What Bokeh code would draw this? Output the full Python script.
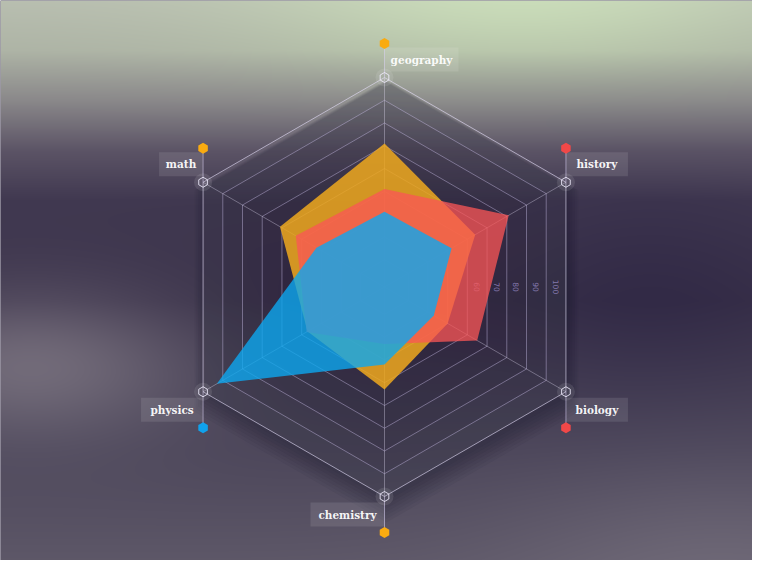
import numpy as np
from bokeh.plotting import figure
from bokeh.models import Range1d
from bokeh.core.properties import value
from bokeh.embed import file_html
from bokeh.resources import INLINE

# ---------------- data ----------------
categories = ["geography", "history", "biology", "chemistry", "physics", "math"]
orange_scores = [71, 54, 40, 53, 47, 61]
red_scores = [51, 71, 55, 33, 47.5, 53]
blue_scores = [41, 42, 33, 42, 93, 42.5]
ring_levels = [20, 30, 40, 50, 60, 70, 80, 90, 100]
tick_values = [60, 70, 80, 90, 100]
tick_labels = ["60", "70", "80", "90", "100"]

series_colors = ["#eea81e", "#fa5655", "#0ca8f0"]
series_alpha = [0.86, 0.76, 0.80]

# ---------------- geometry / layout ----------------
W, H = 752, 560
CX, CY = 384, 286.5      # chart centre in window px
R = 209.5                # outer radius in px
VMIN, VMAX = 8, 100      # radial scale domain


def rad(v):
    return (np.asarray(v, dtype=float) - VMIN) / (VMAX - VMIN) * R


angles = np.deg2rad([90 - 60 * i for i in range(len(categories))])
cosA, sinA = np.cos(angles), np.sin(angles)

x0, x1 = -CX, W - CX
y0, y1 = -(H - CY), CY

p = figure(width=W, height=H, output_backend="svg", toolbar_location=None,
           x_range=Range1d(x0, x1), y_range=Range1d(y0, y1),
           min_border=0, outline_line_color=None)
p.axis.visible = False
p.grid.visible = False
p.background_fill_color = "#3d3450"
p.border_fill_color = "#3d3450"

# ---------------- background gradient (styling) ----------------
ys = np.arange(0, H, dtype=float)[:, None]
xs = np.arange(0, W, dtype=float)[None, :]
stop_y = [0, 50, 100, 150, 200, 300, 450, 576]
stop_r = [184, 174, 138, 92, 64, 58, 76, 96]
stop_g = [190, 180, 136, 84, 56, 50, 70, 90]
stop_b = [176, 166, 138, 102, 80, 74, 90, 106]
r = np.interp(ys, stop_y, stop_r) + 0 * xs
g = np.interp(ys, stop_y, stop_g) + 0 * xs
b = np.interp(ys, stop_y, stop_b) + 0 * xs
glow = np.exp(-(((xs - 520) / 260) ** 2 + ((ys - 0) / 80) ** 2))
r += 18 * glow; g += 30 * glow; b += 10 * glow
haze = np.exp(-(((xs - 30) / 170) ** 2 + ((ys - 360) / 75) ** 2))
r += 48 * haze; g += 48 * haze; b += 40 * haze
haze2 = np.exp(-(((xs - 720) / 220) ** 2 + ((ys - 560) / 120) ** 2))
r += 16 * haze2; g += 16 * haze2; b += 14 * haze2
dark = np.exp(-(((xs - 650) / 140) ** 2 + ((ys - 300) / 120) ** 2))
r -= 8 * dark; g -= 8 * dark; b -= 4 * dark
tex = (((xs.astype(int) + ys.astype(int)) % 2) * 6 - 3) + 0 * ys
r += tex; g += tex; b += tex
img = np.zeros((H, W), dtype=np.uint32)
view = img.view(dtype=np.uint8).reshape((H, W, 4))
view[:, :, 0] = np.clip(r, 0, 255)[::-1].astype(np.uint8)
view[:, :, 1] = np.clip(g, 0, 255)[::-1].astype(np.uint8)
view[:, :, 2] = np.clip(b, 0, 255)[::-1].astype(np.uint8)
view[:, :, 3] = 255
p.image_rgba(image=[img], x=x0, y=y0, dw=x1 - x0, dh=y1 - y0)

# ---------------- shadow under the web ----------------
for k in range(7):
    rr = R + k * 2
    p.patch(list(rr * cosA + 2), list(rr * sinA - 5 - k * 1.5), fill_color="#140f22",
            fill_alpha=0.05, line_color=None)

# ---------------- rings ----------------
ring_xs = [list(rad(lv) * cosA) for lv in ring_levels]
ring_ys = [list(rad(lv) * sinA) for lv in ring_levels]
p.patch(ring_xs[-1], ring_ys[-1], fill_color="#ffffff", fill_alpha=0.06, line_color=None)
for k in range(len(ring_levels) - 2, -1, -1):
    p.patch(ring_xs[k], ring_ys[k], fill_color="#1a1428", fill_alpha=0.07, line_color=None)
p.patches(ring_xs[:-1], ring_ys[:-1], fill_color=None, line_color="#cfc4ee",
          line_alpha=0.42, line_width=1)
p.patch(ring_xs[-1], ring_ys[-1], fill_color=None, line_color="#e6e0fa",
        line_alpha=0.6, line_width=1)

# spokes
p.multi_line([[0, R * c] for c in cosA], [[0, R * s] for s in sinA],
             line_color="#e8e2fa", line_alpha=0.35, line_width=1)

# tick labels along the right
p.text(x=list(rad(tick_values) * np.cos(np.pi / 6) - 10), y=[0] * len(tick_values),
       text=tick_labels, angle=-np.pi / 2, text_align="center", text_baseline="middle",
       text_font=value("DejaVu Sans"), text_font_size="7.5px", text_color="#9a8cc8",
       text_alpha=0.8)

# ---------------- series polygons ----------------
for scores, col, al in zip([orange_scores, red_scores, blue_scores], series_colors, series_alpha):
    rr = rad(scores)
    p.patch(list(rr * cosA), list(rr * sinA), fill_color=col, fill_alpha=al, line_color=None)

# ---------------- labels, connectors, markers ----------------
all_scores = np.array([orange_scores, red_scores, blue_scores])
best = all_scores.argmax(axis=0)
marker_colors = ["#f9ab10", "#f04848", "#10a2ec"]
vx, vy = R * cosA, R * sinA
for i, cat in enumerate(categories):
    top = sinA[i] > 0
    right = cosA[i] > 0.1 or i == 0
    dy = 34 if top else -36
    mx, my = vx[i], vy[i] + dy
    p.line([vx[i], mx], [vy[i], my], line_color="#d8d0f4", line_alpha=0.55, line_width=1)
    bw = len(cat) * 6.0 + 20
    bh = 24
    bcx = vx[i] + (bw / 2 if right else -bw / 2)
    bcy = vy[i] + (18 if top else -18)
    p.rect(x=[bcx], y=[bcy], width=[bw], height=[bh], fill_color="#ffffff",
           fill_alpha=0.10, line_color=None)
    p.text(x=[bcx], y=[bcy], text=[cat], text_align="center", text_baseline="middle",
           text_font=value("DejaVu Serif"), text_font_style="bold", text_font_size="10.5px",
           text_color="#ffffff", text_alpha=0.95)
    p.scatter(x=[mx], y=[my], marker="hex", size=11, angle=np.pi / 2,
              fill_color=marker_colors[best[i]], line_color=None)
    p.scatter(x=[vx[i]], y=[vy[i]], marker="circle", size=18, fill_color="#ffffff",
              fill_alpha=0.10, line_color=None)
    p.scatter(x=[vx[i]], y=[vy[i]], marker="hex", size=10, angle=np.pi / 2,
              fill_color=None, line_color="#f2eeff", line_alpha=0.85, line_width=1)

open("out.html", "w").write(file_html(p, INLINE))
